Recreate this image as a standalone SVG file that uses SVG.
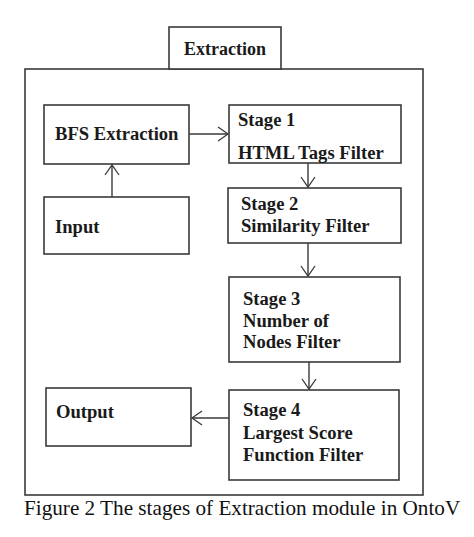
<svg xmlns="http://www.w3.org/2000/svg" width="474" height="537" viewBox="0 0 474 537">
<defs>
<style>
.box{fill:#fff;stroke:#3a3a3a;stroke-width:1.6}
.t{font-family:"Liberation Serif","Times New Roman",serif;font-weight:bold;font-size:18.6px;fill:#1a1a1a}
.cap{font-family:"Liberation Serif","Times New Roman",serif;font-size:21.2px;fill:#111}
.ln{fill:none;stroke:#3a3a3a;stroke-width:1.4}
</style>
<marker id="ah" markerWidth="14" markerHeight="16" refX="11" refY="8" orient="auto" markerUnits="userSpaceOnUse">
<path d="M1,1 L11,8 L1,15" fill="none" stroke="#3a3a3a" stroke-width="1.3"/>
</marker>
</defs>
<rect width="474" height="537" fill="#fff"/>
<g id="module">
<rect class="box" x="25" y="69" width="398" height="426"/>
</g>
<g id="tab">
<rect class="box" x="169" y="27" width="112" height="42"/>
<text class="t" x="225" y="55" text-anchor="middle" style="font-size:18px">Extraction</text>
</g>
<g id="bfs">
<rect class="box" x="44" y="105" width="145" height="59"/>
<text class="t" x="55" y="140">BFS Extraction</text>
</g>
<g id="stage1">
<rect class="box" x="229" y="105" width="172" height="58"/>
<text class="t" x="238" y="126">Stage 1</text>
<text class="t" x="238" y="159">HTML Tags Filter</text>
</g>
<g id="input">
<rect class="box" x="44" y="197" width="145" height="57"/>
<text class="t" x="55" y="233">Input</text>
</g>
<g id="stage2">
<rect class="box" x="228" y="188" width="173" height="55"/>
<text class="t" x="241" y="210">Stage 2</text>
<text class="t" x="241" y="232">Similarity Filter</text>
</g>
<g id="stage3">
<rect class="box" x="229" y="277" width="171" height="85"/>
<text class="t" x="243" y="305">Stage 3</text>
<text class="t" x="243" y="327">Number of</text>
<text class="t" x="243" y="348">Nodes Filter</text>
</g>
<g id="output">
<rect class="box" x="46" y="388" width="145" height="58"/>
<text class="t" x="56" y="418">Output</text>
</g>
<g id="stage4">
<rect class="box" x="229" y="390" width="170" height="90"/>
<text class="t" x="243" y="416">Stage 4</text>
<text class="t" x="243" y="439">Largest Score</text>
<text class="t" x="243" y="461">Function Filter</text>
</g>
<g id="connectors">
<line class="ln" x1="189" y1="134" x2="228" y2="134" marker-end="url(#ah)"/>
<line class="ln" x1="112" y1="197" x2="112" y2="165" marker-end="url(#ah)"/>
<line class="ln" x1="308" y1="163" x2="308" y2="187" marker-end="url(#ah)"/>
<line class="ln" x1="308" y1="243" x2="308" y2="276" marker-end="url(#ah)"/>
<line class="ln" x1="309" y1="362" x2="309" y2="389" marker-end="url(#ah)"/>
<line class="ln" x1="229" y1="418" x2="192" y2="418" marker-end="url(#ah)"/>
</g>
<text class="cap" x="24" y="515">Figure 2 The stages of Extraction module in OntoV</text>
</svg>
